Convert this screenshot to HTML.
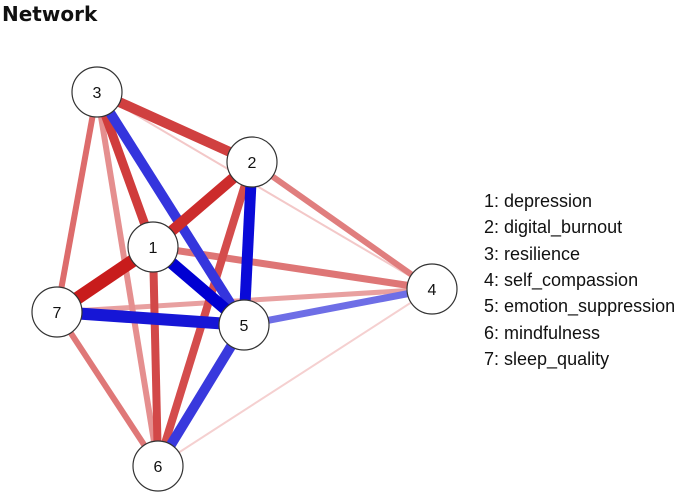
<!DOCTYPE html>
<html><head><meta charset="utf-8"><style>
html,body{margin:0;padding:0;background:#fff;width:685px;height:495px;overflow:hidden}
</style></head><body>
<svg width="685" height="495" xmlns="http://www.w3.org/2000/svg" style="position:absolute;left:0;top:0">
<text x="2" y="21" font-family="DejaVu Sans, sans-serif" font-weight="bold" font-size="20" fill="#111">Network</text>
<g stroke-linecap="butt">
<line x1="97" y1="92" x2="432" y2="289" stroke="#f3c8c8" stroke-width="2"/>
<line x1="158" y1="466" x2="432" y2="289" stroke="#f5d0d0" stroke-width="2"/>
<line x1="57" y1="312" x2="432" y2="289" stroke="#e8a0a0" stroke-width="5"/>
<line x1="252" y1="162" x2="432" y2="289" stroke="#e07e7e" stroke-width="6"/>
<line x1="153" y1="247" x2="432" y2="289" stroke="#de7676" stroke-width="7"/>
<line x1="97" y1="92" x2="158" y2="466" stroke="#e58f8f" stroke-width="6"/>
<line x1="97" y1="92" x2="57" y2="312" stroke="#dd6c6c" stroke-width="6"/>
<line x1="57" y1="312" x2="158" y2="466" stroke="#df7878" stroke-width="6"/>
<line x1="153" y1="247" x2="158" y2="466" stroke="#d24848" stroke-width="8"/>
<line x1="252" y1="162" x2="158" y2="466" stroke="#d44c4c" stroke-width="8"/>
<line x1="97" y1="92" x2="153" y2="247" stroke="#d03c3c" stroke-width="9"/>
<line x1="97" y1="92" x2="252" y2="162" stroke="#d04040" stroke-width="10"/>
<line x1="244" y1="325" x2="432" y2="289" stroke="#6e6ee6" stroke-width="7"/>
<line x1="97" y1="92" x2="244" y2="325" stroke="#3535dd" stroke-width="10"/>
<line x1="252" y1="162" x2="153" y2="247" stroke="#cc2c2c" stroke-width="11"/>
<line x1="153" y1="247" x2="57" y2="312" stroke="#c81c1c" stroke-width="13"/>
<line x1="244" y1="325" x2="158" y2="466" stroke="#3939dd" stroke-width="10"/>
<line x1="252" y1="162" x2="244" y2="325" stroke="#0a0ad8" stroke-width="11"/>
<line x1="153" y1="247" x2="244" y2="325" stroke="#0000d2" stroke-width="12"/>
<line x1="57" y1="312" x2="244" y2="325" stroke="#1616d6" stroke-width="12"/>
</g>
<g fill="#fff" stroke="#333" stroke-width="1.2">
<circle cx="97" cy="92" r="25"/><circle cx="252" cy="162" r="25"/>
<circle cx="153" cy="247" r="25"/><circle cx="57" cy="312" r="25"/>
<circle cx="244" cy="325" r="25"/><circle cx="432" cy="289" r="25"/>
<circle cx="158" cy="466" r="25"/>
</g>
<g font-family="Liberation Sans, sans-serif" font-size="16" fill="#111" text-anchor="middle">
<text x="97" y="98">3</text><text x="252" y="168">2</text><text x="153" y="253">1</text>
<text x="57" y="318">7</text><text x="244" y="331">5</text><text x="432" y="295">4</text>
<text x="158" y="472">6</text>
</g>
<g font-family="Liberation Sans, sans-serif" font-size="18" fill="#111">
<text x="484" y="207">1: depression</text>
<text x="484" y="233">2: digital_burnout</text>
<text x="484" y="260">3: resilience</text>
<text x="484" y="286">4: self_compassion</text>
<text x="484" y="312">5: emotion_suppression</text>
<text x="484" y="339">6: mindfulness</text>
<text x="484" y="365">7: sleep_quality</text>
</g>
</svg>
</body></html>
